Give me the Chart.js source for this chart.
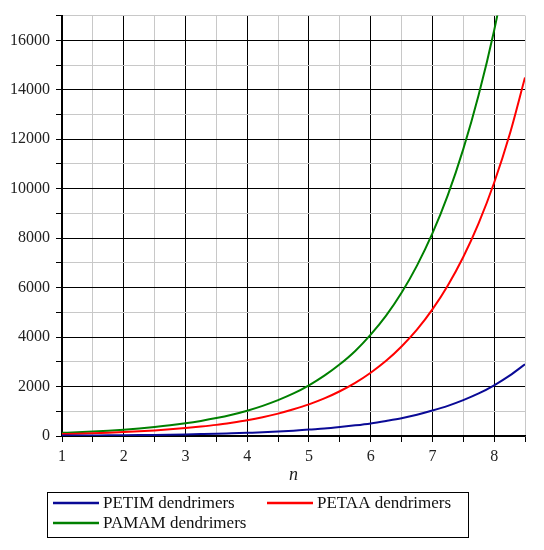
<html>

<head>
    <title>Dendrimers</title>
    <script src="https://cdn.jsdelivr.net/npm/chart.js@4.4.1/dist/chart.umd.min.js"></script>
    <style>
        body { margin: 0; background: #fff; }
        #probe { position: absolute; left: -999px; font-family: 'Liberation Serif'; }
    </style>
</head>

<body>
    <span id="probe">n 0123456789 PETIM</span>
    <canvas id="plotCanvas" width="544" height="550"></canvas>

    <script>
        // values, step 0.25 in n
        const nValues = [1, 1.25, 1.5, 1.75, 2, 2.25, 2.5, 2.75, 3, 3.25, 3.5, 3.75, 4, 4.25, 4.5, 4.75,
            5, 5.25, 5.5, 5.75, 6, 6.25, 6.5, 6.75, 7, 7.25, 7.5, 7.75, 8, 8.25, 8.5]
        const petim = [16, 19, 23, 27, 32, 38, 45, 54, 64, 76, 90, 110, 130, 150, 180, 215,
            260, 300, 360, 430, 510, 610, 720, 860, 1030, 1220, 1450, 1720, 2050, 2440, 2900]
        const petaa = [80, 95, 113, 135, 160, 190, 225, 270, 320, 380, 450, 540, 640, 760, 905, 1080,
            1280, 1520, 1810, 2150, 2560, 3040, 3620, 4300, 5120, 6090, 7240, 8610, 10240, 12180, 14500]
        const pamam = [128, 152, 181, 215, 256, 304, 362, 430, 512, 610, 724, 860, 1024, 1220, 1450, 1720,
            2050, 2440, 2900, 3440, 4100, 4870, 5790, 6890, 8190, 9740, 11600, 13800, 16400, 19500, null]

        const seriesNames = ['PETIM dendrimers', 'PETAA dendrimers', 'PAMAM dendrimers']
        const seriesColors = ['#0a0a96', '#ff0000', '#008000']

        const xLabelValues = [1, 2, 3, 4, 5, 6, 7, 8]
        const yLabelValues = [0, 2000, 4000, 6000, 8000, 10000, 12000, 14000, 16000]

        const serif = "'Liberation Serif', 'Times New Roman', Tinos, serif"
        const toPoints = ys => nValues.map((x, i) => ({ x, y: ys[i] }))

        // boxed legend under the plot, two columns
        const boxLegend = {
            id: 'boxLegend',
            afterDraw(chart) {
                const ctx = chart.ctx
                ctx.save()
                ctx.strokeStyle = '#000'
                ctx.lineWidth = 1
                ctx.strokeRect(47.5, 492.5, 421, 45)
                const slots = [[53, 503], [267, 503], [53, 523]]
                ctx.font = '17px ' + serif
                ctx.textBaseline = 'middle'
                ctx.fillStyle = '#111'
                chart.data.datasets.forEach((ds, i) => {
                    const [x, y] = slots[i]
                    ctx.strokeStyle = ds.borderColor
                    ctx.lineWidth = 2.5
                    ctx.beginPath()
                    ctx.moveTo(x, y)
                    ctx.lineTo(x + 46, y)
                    ctx.stroke()
                    ctx.fillText(ds.label, x + 50, y + 1)
                })
                ctx.restore()
            },
        }

        function draw() {
            const datasets = [petim, petaa, pamam].map((ys, i) => ({
                label: seriesNames[i],
                data: toPoints(ys),
                borderColor: seriesColors[i],
                backgroundColor: seriesColors[i],
                borderWidth: 2,
                pointRadius: 0,
                cubicInterpolationMode: 'monotone',
            }))

            return new Chart(document.getElementById('plotCanvas'), {
                type: 'line',
                data: { datasets },
                plugins: [boxLegend],
                options: {
                    responsive: false,
                    animation: false,
                    layout: { padding: { left: 0, right: 19, top: 9, bottom: 64 } },
                    plugins: { legend: { display: false }, tooltip: { enabled: false } },
                    scales: {
                        x: {
                            type: 'linear',
                            min: 1,
                            max: 8.5,
                            afterFit: s => { s.height = 50 },
                            ticks: {
                                stepSize: 0.5,
                                autoSkip: false,
                                maxRotation: 0,
                                padding: 5,
                                color: '#222',
                                font: { family: serif, size: 16 },
                                callback: v => (xLabelValues.includes(v) ? String(v) : ''),
                            },
                            grid: {
                                color: c => (Number.isInteger(c.tick.value) ? '#000' : '#c8c8c8'),
                                lineWidth: 1,
                                tickLength: 6,
                                tickColor: '#000',
                            },
                            border: { color: '#000', width: 1.5 },
                            title: {
                                display: true,
                                text: 'n',
                                color: '#222',
                                padding: 0,
                                font: { family: serif, size: 18, style: 'italic' },
                            },
                        },
                        y: {
                            min: 0,
                            max: 17000,
                            afterFit: s => { s.width = 62 },
                            ticks: {
                                stepSize: 1000,
                                autoSkip: false,
                                padding: 6,
                                color: '#222',
                                font: { family: serif, size: 16 },
                                callback: v => (yLabelValues.includes(v) ? String(v) : ''),
                            },
                            grid: {
                                color: c => (c.tick.value % 2000 === 0 ? '#000' : '#c8c8c8'),
                                lineWidth: 1,
                                tickLength: 6,
                                tickColor: '#000',
                            },
                            border: { color: '#000', width: 2 },
                        },
                    },
                },
            })
        }

        document.fonts.load("16px 'Liberation Serif'").then(draw, draw)
    </script>
</body>

</html>
